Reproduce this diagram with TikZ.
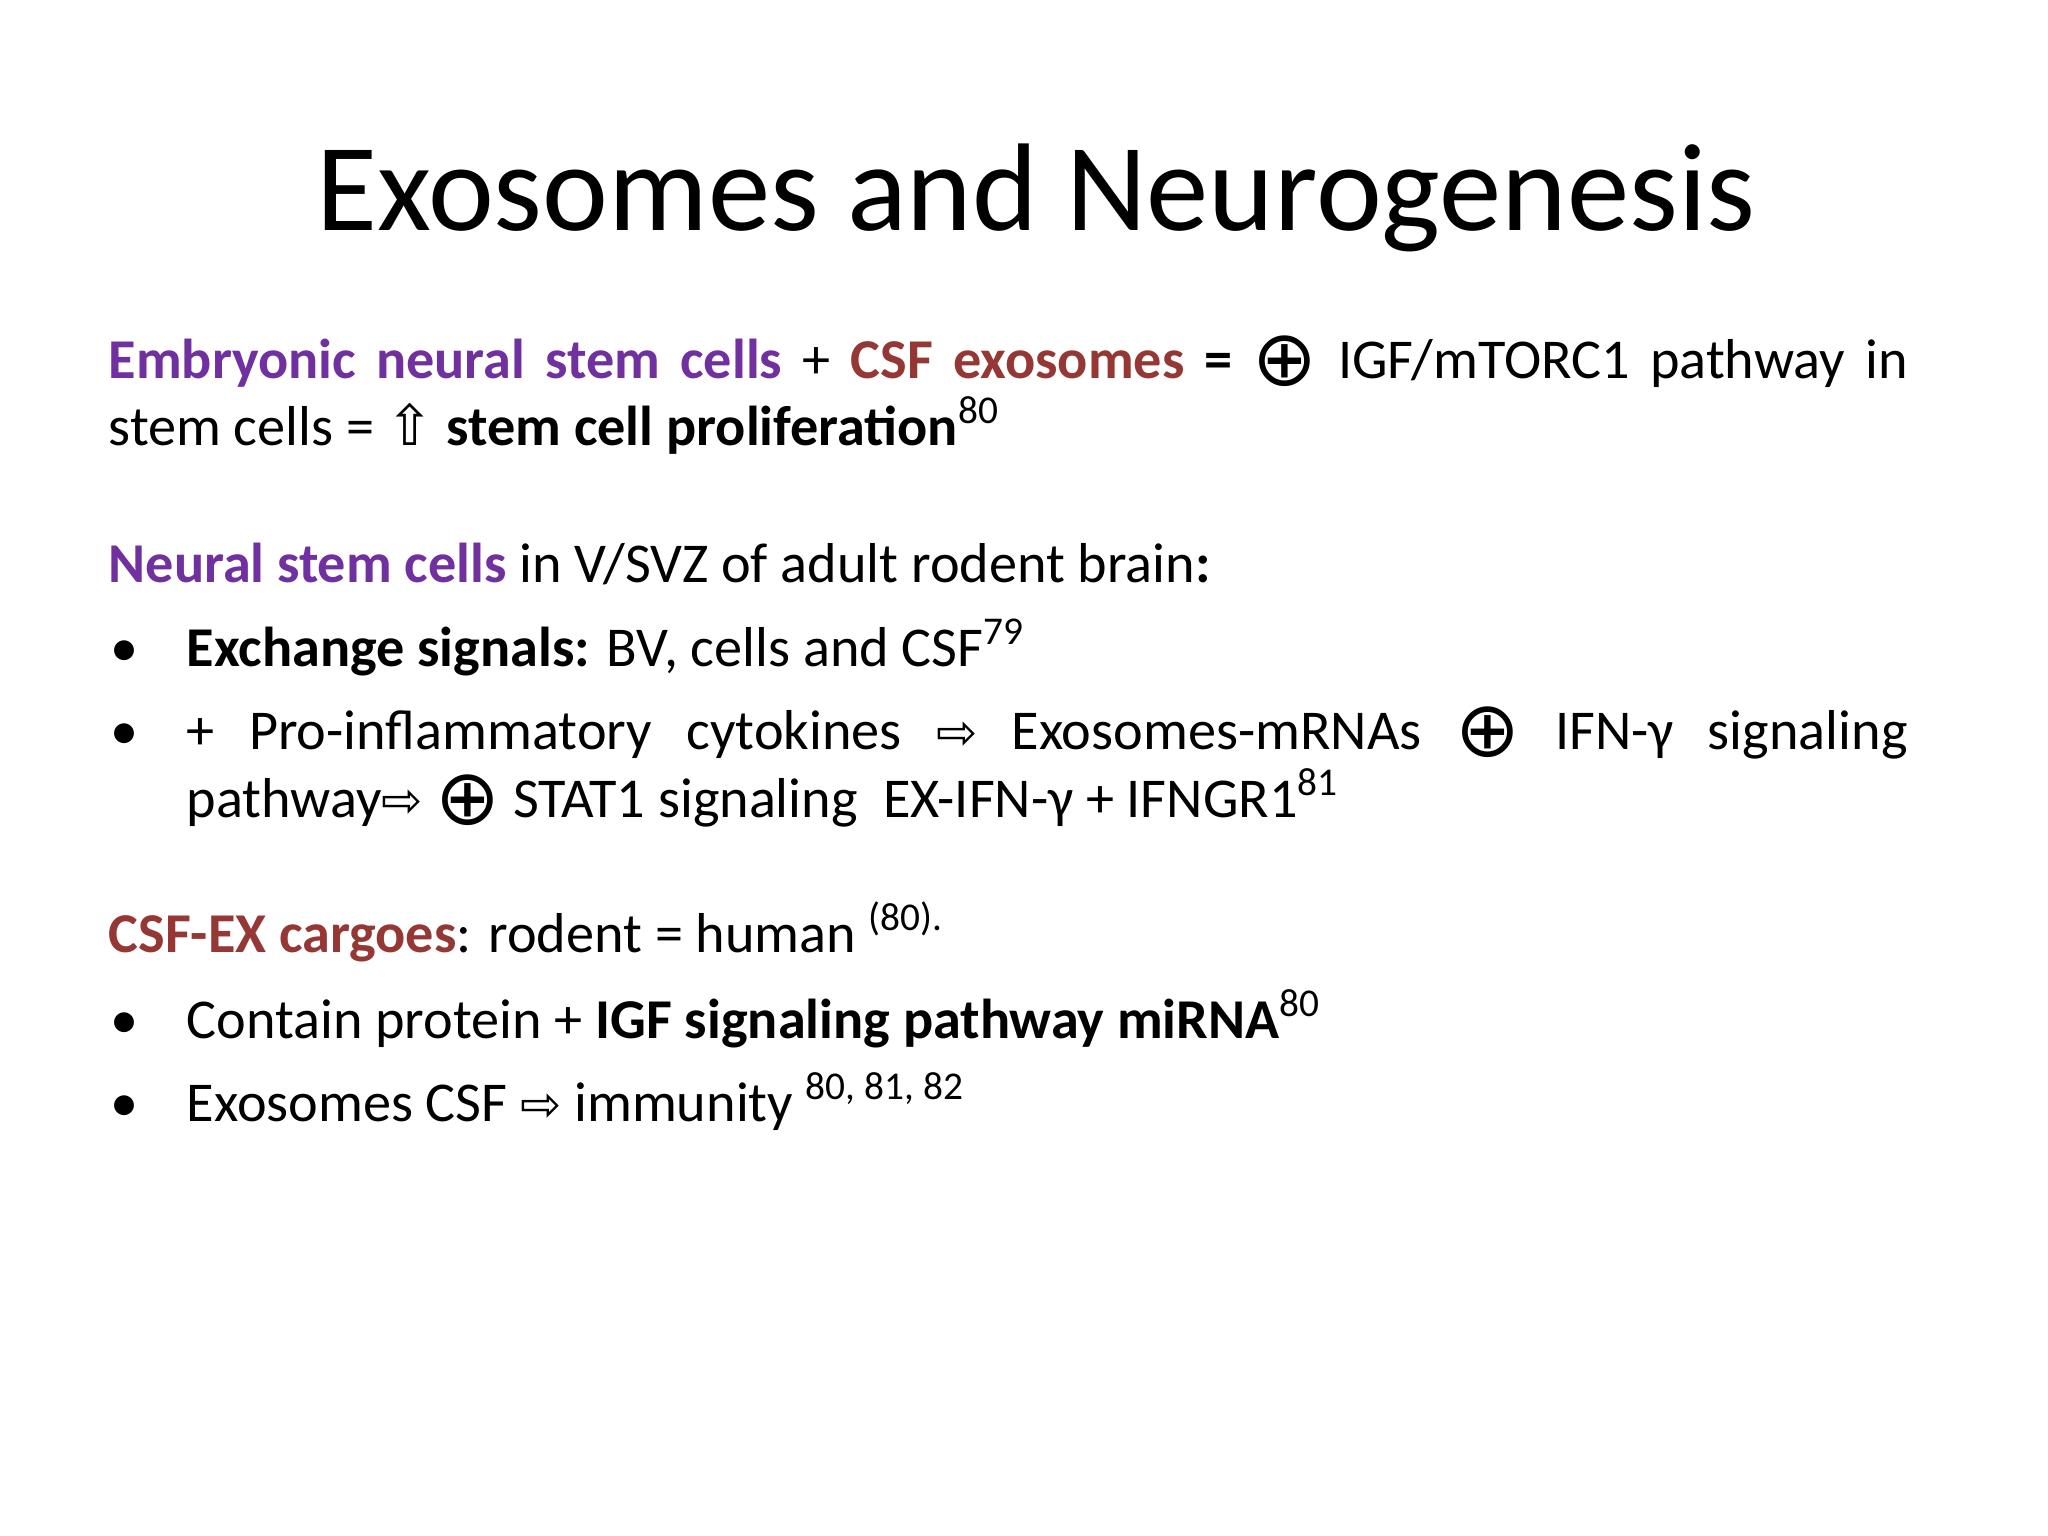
\documentclass[tikz,border=0pt]{standalone}
\usepackage{fontspec}
\setmainfont{Carlito}
\newfontfamily\sym{DejaVu Sans}
\definecolor{pur}{HTML}{7030A0}
\definecolor{brn}{HTML}{953735}
\newcommand{\op}{\raisebox{-0.12em}{\sym\fontsize{22}{22}\selectfont ⊕}}
\newcommand{\ra}{{\sym\fontsize{14}{14}\selectfont ⇨}}
\begin{document}
\begin{tikzpicture}[x=1cm,y=1cm,
  ln/.style={anchor=base west,inner sep=0pt,font=\fontsize{16}{19}\selectfont},
  bul/.style={anchor=base west,inner sep=0pt,font=\fontsize{16}{19}\selectfont}]
\fill[white] (0,0) rectangle (20.48,15.36);
\node[inner sep=0pt,anchor=base,font=\fontsize{35.5}{42}\selectfont] (title) at (10.36,13.05) {Exosomes and Neurogenesis};
\node[ln] (l1) at (1.08,11.57) {\makebox[17.99cm][s]{\textcolor{pur}{\textbf{Embryonic neural stem cells}} + \textcolor{brn}{\textbf{CSF exosomes}} \textbf{=} \op{} IGF/mTORC1 pathway in}};
\node[ln] (l2) at (1.08,10.90) {stem cells = {\sym ⇧} \textbf{stem cell proliferation}\textsuperscript{80}};
\node[ln] (l3) at (1.08,9.53) {\textcolor{pur}{\textbf{Neural stem cells}} in V/SVZ of adult rodent brain\textbf{:}};
\node[bul] (b1) at (1.10,8.69) {\textbullet};
\node[ln] (l4) at (1.86,8.69) {\textbf{Exchange signals:} BV, cells and CSF\textsuperscript{79}};
\node[bul] (b2) at (1.10,7.86) {\textbullet};
\node[ln] (l5) at (1.86,7.86) {\makebox[17.21cm][s]{+ Pro-inflammatory cytokines \ra{} Exosomes-mRNAs \op{} IFN-γ signaling}};
\node[ln] (l6) at (1.86,7.18) {pathway\ra{} \op{} STAT1 signaling\ \ EX-IFN-γ + IFNGR1\textsuperscript{81}};
\node[ln] (l7) at (1.08,5.83) {\textcolor{brn}{\textbf{CSF-EX cargoes}}: rodent = human \textsuperscript{(80).}};
\node[bul] (b3) at (1.10,4.97) {\textbullet};
\node[ln] (l8) at (1.86,4.97) {Contain protein + \textbf{IGF signaling pathway miRNA}\textsuperscript{80}};
\node[bul] (b4) at (1.10,4.14) {\textbullet};
\node[ln] (l9) at (1.86,4.14) {Exosomes CSF \ra{} immunity \textsuperscript{80, 81, 82}};
\end{tikzpicture}
\end{document}
